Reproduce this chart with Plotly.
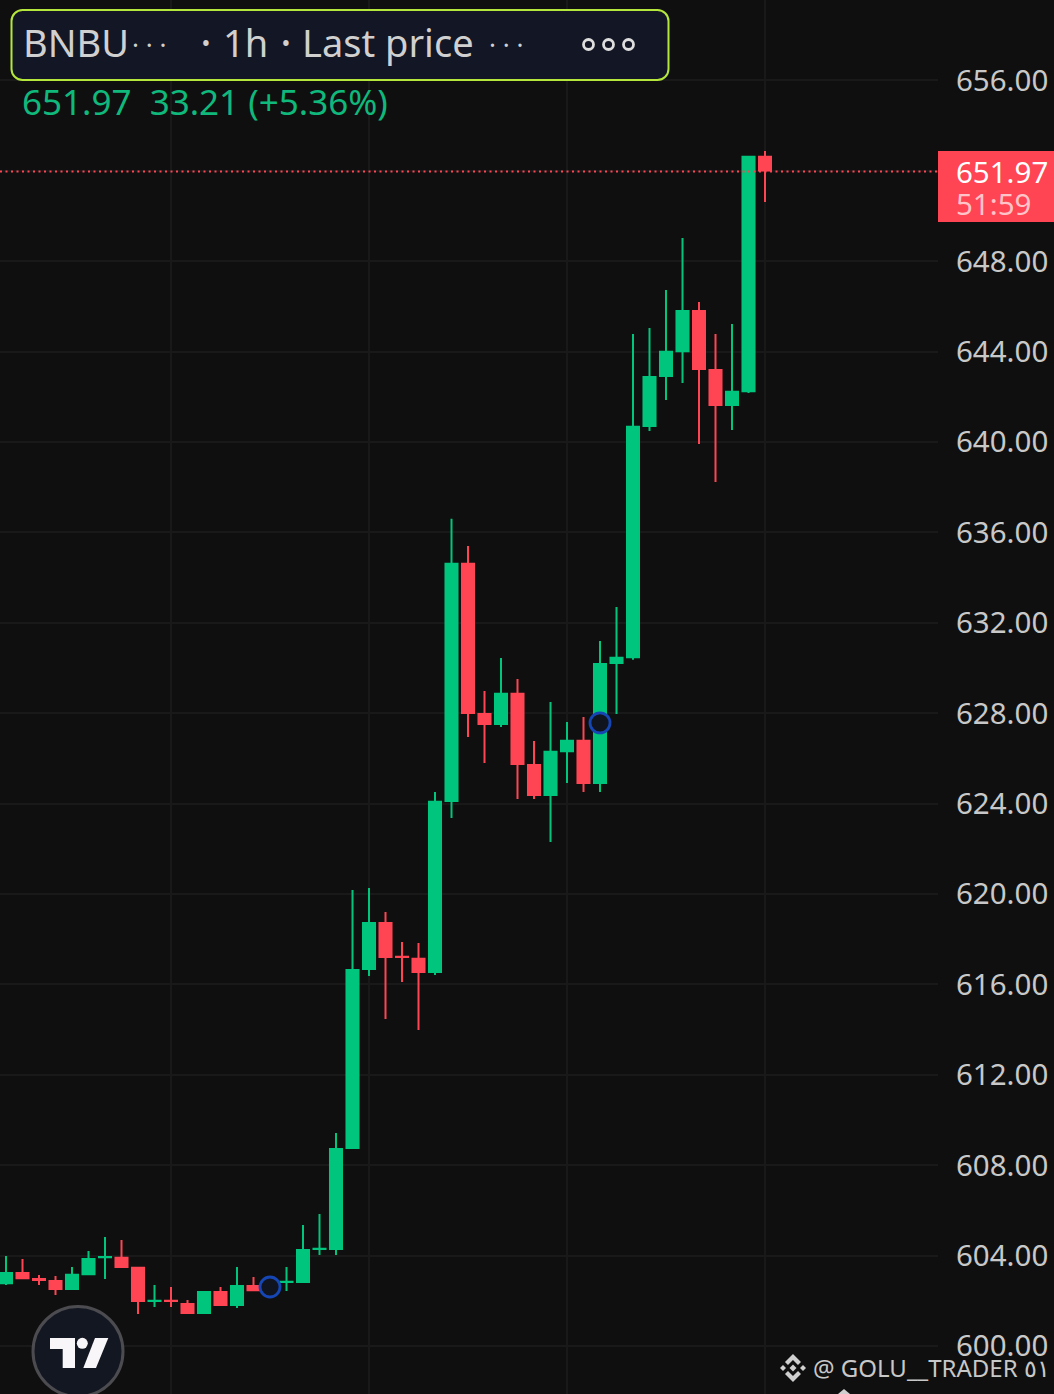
import plotly.graph_objects as go

W, H = 1054, 1394

opens = [602.78, 603.23, 602.97, 602.88, 602.52, 603.18, 603.93, 603.90, 603.46, 601.99,
         602.00, 601.86, 601.46, 602.39, 601.81, 602.66, 602.47, 602.83, 602.83, 604.29,
         604.29, 608.76, 616.68, 618.72, 617.22, 617.13, 616.55, 624.11, 634.61, 627.97,
         627.52, 628.86, 625.71, 624.38, 626.32, 626.78, 624.91, 630.22, 630.48, 640.71,
         642.92, 644.02, 645.80, 643.19, 641.64, 642.25, 652.62]
highs = [603.98, 603.85, 603.14, 603.10, 603.50, 604.20, 604.82, 604.69, 603.50, 602.70,
         602.61, 602.04, 602.43, 602.61, 603.50, 603.05, 602.75, 603.50, 605.35, 605.84,
         609.43, 620.18, 620.27, 619.20, 617.88, 617.83, 624.51, 636.60, 635.40, 628.98,
         630.44, 629.51, 626.77, 628.50, 627.61, 627.83, 631.20, 632.70, 644.78, 645.05,
         646.73, 649.03, 646.20, 644.78, 645.22, 652.62, 652.88]
lows = [602.70, 603.00, 602.70, 602.26, 602.52, 603.18, 602.96, 603.49, 601.42, 601.73,
        601.73, 601.46, 601.46, 601.81, 601.68, 602.47, 602.35, 602.43, 602.83, 604.03,
        604.03, 608.76, 616.37, 614.47, 616.11, 613.98, 616.42, 623.36, 626.95, 625.80,
        627.39, 624.20, 624.20, 622.30, 624.91, 624.51, 624.51, 627.97, 630.36, 640.49,
        641.86, 642.61, 639.91, 638.23, 640.53, 642.17, 650.62]
closes = [603.23, 603.00, 602.92, 602.52, 603.15, 603.85, 603.94, 603.49, 601.99, 602.00,
          601.99, 601.46, 602.39, 601.81, 602.66, 602.47, 602.66, 602.84, 604.25, 604.30,
          608.72, 616.64, 618.72, 617.21, 617.21, 616.55, 624.08, 634.61, 628.01, 627.52,
          628.86, 625.75, 624.38, 626.29, 626.78, 624.91, 630.18, 630.45, 640.67, 642.88,
          643.99, 645.80, 643.23, 641.64, 642.22, 652.62, 652.01]
bars = list(range(len(opens)))

marker_bars = [16, 36]
marker_prices = [602.61, 627.57]

price_ticks = [600, 604, 608, 612, 616, 620, 624, 628, 632, 636, 640, 644, 648, 652, 656]
price_labels = ["600.00", "604.00", "608.00", "612.00", "616.00", "620.00", "624.00", "628.00",
                "632.00", "636.00", "640.00", "644.00", "648.00", "", "656.00"]
time_ticks = [10, 22, 34, 46]

last_price = 651.97
last_label = "651.97"
countdown = "51:59"
header_symbol = "BNBU"
header_interval = "1h"
header_source = "Last price"
header_values = "651.97  33.21 (+5.36%)"
watermark = "@ GOLU__TRADER ٥١"

BG = "#0f0f0f"
GRID = "#191919"
GREEN = "#00c57c"
RED = "#ff4453"
TEXT = "#c8c8c8"
FONT = "Noto Sans"


def px(x):
    return x / W


def py(y):
    return 1 - y / H


def poly(points):
    return "M " + " L ".join(f"{px(x):.5f},{py(y):.5f}" for x, y in points) + " Z"


def rounded(x0, y0, x1, y1, r):
    c = 0.55 * r
    return (
        f"M {px(x0 + r):.5f},{py(y0):.5f} L {px(x1 - r):.5f},{py(y0):.5f} "
        f"C {px(x1 - r + c):.5f},{py(y0):.5f} {px(x1):.5f},{py(y0 + r - c):.5f} {px(x1):.5f},{py(y0 + r):.5f} "
        f"L {px(x1):.5f},{py(y1 - r):.5f} "
        f"C {px(x1):.5f},{py(y1 - r + c):.5f} {px(x1 - r + c):.5f},{py(y1):.5f} {px(x1 - r):.5f},{py(y1):.5f} "
        f"L {px(x0 + r):.5f},{py(y1):.5f} "
        f"C {px(x0 + r - c):.5f},{py(y1):.5f} {px(x0):.5f},{py(y1 - r + c):.5f} {px(x0):.5f},{py(y1 - r):.5f} "
        f"L {px(x0):.5f},{py(y0 + r):.5f} "
        f"C {px(x0):.5f},{py(y0 + r - c):.5f} {px(x0 + r - c):.5f},{py(y0):.5f} {px(x0 + r):.5f},{py(y0):.5f} Z"
    )


def pshape(path, fill, line=None, width=0):
    return dict(type="path", xref="paper", yref="paper", path=path, fillcolor=fill,
                line=dict(color=line or fill, width=width), layer="above")


def circle(cx, cy, r, fill, line=None, width=0):
    return dict(type="circle", xref="paper", yref="paper",
                x0=px(cx - r), x1=px(cx + r), y0=py(cy + r), y1=py(cy - r),
                fillcolor=fill, line=dict(color=line or fill, width=width), layer="above")


def diamond(cx, cy, r):
    return poly([(cx, cy - r), (cx + r, cy), (cx, cy + r), (cx - r, cy)])


fig = go.Figure()
fig.add_trace(go.Candlestick(
    x=bars, open=opens, high=highs, low=lows, close=closes,
    increasing=dict(line=dict(color=GREEN, width=2), fillcolor=GREEN),
    decreasing=dict(line=dict(color=RED, width=2), fillcolor=RED),
    whiskerwidth=0, showlegend=False, hoverinfo="skip",
))
fig.add_trace(go.Scatter(
    x=marker_bars, y=marker_prices, mode="markers", showlegend=False, hoverinfo="skip",
    marker=dict(symbol="circle", size=20, color="#10141f", line=dict(color="#1546b4", width=2.8)),
))

shapes = [
    dict(type="line", xref="x", yref="y", x0=-0.3636, x1=56.485, y0=last_price, y1=last_price,
         line=dict(color=RED, width=2, dash="2px,3.5px"), layer="above"),
    dict(type="rect", xref="paper", yref="paper", x0=px(938), x1=1, y0=py(222), y1=py(151),
         fillcolor=RED, line=dict(width=0), layer="above"),
    pshape(rounded(11.5, 10, 668.5, 80, 11), "#131725", "#b4e63c", 2),
    circle(588.5, 44.5, 5, "rgba(0,0,0,0)", "#dedede", 2.8),
    circle(608.5, 44.5, 5, "rgba(0,0,0,0)", "#dedede", 2.8),
    circle(628.5, 44.5, 5, "rgba(0,0,0,0)", "#dedede", 2.8),
    circle(78, 1351.5, 45, "#131722", "#4b4b50", 3),
    pshape(poly([(50, 1338), (75, 1338), (75, 1368), (62.7, 1368), (62.7, 1349), (50, 1349)]), "#f8f6f8"),
    circle(82.3, 1343.3, 5.5, "#f8f6f8"),
    pshape(poly([(95, 1338), (108.3, 1338), (96, 1368), (83.3, 1368)]), "#f8f6f8"),
    pshape(diamond(793, 1368, 3.5), "#cfcfcf"),
    pshape(diamond(783, 1368, 3), "#cfcfcf"),
    pshape(diamond(803, 1368, 3), "#cfcfcf"),
    pshape(poly([(793, 1354), (801, 1362), (798, 1365), (793, 1360), (788, 1365), (785, 1362)]), "#cfcfcf"),
    pshape(poly([(793, 1382), (801, 1374), (798, 1371), (793, 1376), (788, 1371), (785, 1374)]), "#cfcfcf"),
    pshape(poly([(844, 1389), (850, 1394), (838, 1394)]), "#cfcfcf"),
]


def note(x, y, text, size, color, anchor="left"):
    return dict(xref="paper", yref="paper", x=px(x), y=py(y), text=text, showarrow=False,
                xanchor=anchor, yanchor="middle", align="left", borderpad=0,
                font=dict(family=FONT, size=size, color=color))


HEAD = "#d0d0d0"
annotations = [
    note(22, 42, header_symbol, 38, HEAD),
    note(131, 44, "· · ·", 26, HEAD),
    note(199, 42, "·", 44, HEAD),
    note(222, 42, header_interval, 38, HEAD),
    note(279, 42, "·", 44, HEAD),
    note(301, 42, header_source, 38, HEAD),
    note(488, 44, "· · ·", 26, HEAD),
    note(21, 102, header_values, 35, "#10b87c"),
    note(955, 171, last_label, 29.5, "#ffffff"),
    note(955, 203, countdown, 29.5, "#ffc4c8"),
    note(812, 1367, watermark, 24, "#c8c8c8"),
]

fig.update_layout(
    width=W, height=H, margin=dict(l=0, r=0, t=0, b=0),
    paper_bgcolor=BG, plot_bgcolor=BG, hovermode=False, showlegend=False,
    boxgap=0.27, boxgroupgap=0,
    font=dict(family=FONT, color=TEXT),
    shapes=shapes, annotations=annotations,
    xaxis=dict(domain=[0, 938 / W], range=[-0.3636, 56.485], rangeslider=dict(visible=False),
               tickmode="array", tickvals=time_ticks, showticklabels=False, ticks="",
               showgrid=True, gridcolor=GRID, gridwidth=1.5, zeroline=False, showline=False),
    yaxis=dict(side="right", range=[597.876, 659.558], tickmode="array",
               tickvals=price_ticks, ticktext=price_labels, ticks="", ticklabelstandoff=17,
               tickfont=dict(family=FONT, size=29.5, color=TEXT),
               showgrid=True, gridcolor=GRID, gridwidth=1.5, zeroline=False, showline=False),
)

fig.write_html("out.html", config={"displayModeBar": False, "responsive": False},
               post_script="document.body.style.margin='0';document.body.style.background='#0f0f0f';document.body.style.overflow='hidden';")
